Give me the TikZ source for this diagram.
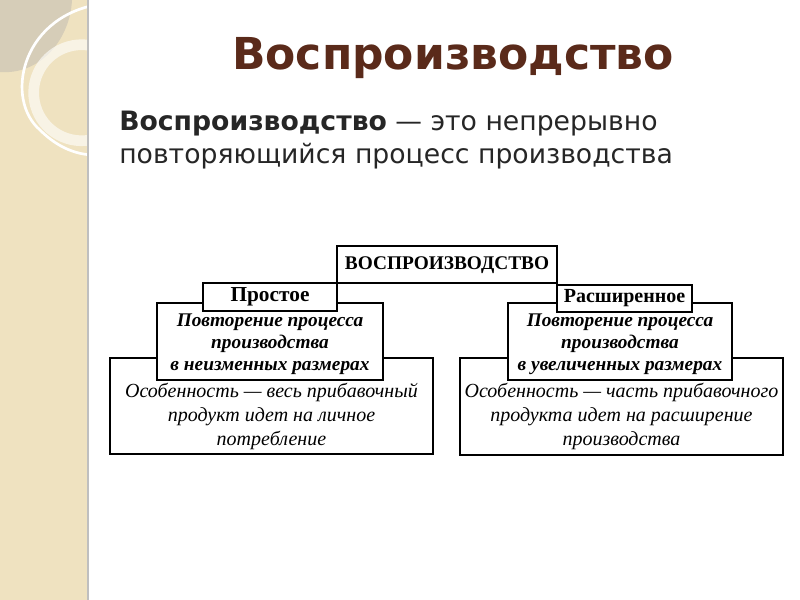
\documentclass[tikz,border=0pt]{standalone}
\usepackage{fontspec}
\setmainfont{Liberation Serif}
\newfontfamily\hsans{DejaVu Sans}
\definecolor{stripc}{HTML}{EFE2C0}
\definecolor{stripg}{HTML}{D6CDB8}
\definecolor{titlec}{HTML}{5A2A1A}
\begin{document}
\begin{tikzpicture}[x=0.75pt,y=-0.75pt,
  bx/.style={draw=black,line width=1.6pt,fill=white},
  bt/.style={font=\fontsize{14.5}{16.5}\selectfont\bfseries\itshape,align=center,inner sep=0},
  rt/.style={font=\fontsize{15}{18}\selectfont\itshape,align=center,inner sep=0}]
\useasboundingbox (0,0) rectangle (800,600);
\fill[white] (0,0) rectangle (800,600);
% left strip
\fill[stripc] (0,0) rectangle (88,600);
\begin{scope}
\clip (0,0) rectangle (88,600);
\fill[stripg] (0,0) -- (0,72) .. controls (40,75) and (70,40) .. (72,0) -- cycle;
\draw[white,line width=2pt] (95,5) .. controls (20,20) and (5,100) .. (40,130) .. controls (60,150) and (80,155) .. (95,155);
\draw[white,line width=8pt,opacity=0.6] (90,140) arc[start angle=80,end angle=330,radius=48];
\end{scope}
\draw[gray!50,line width=1pt] (88,0) -- (88,600);
% headings
\node[font=\hsans\fontsize{33}{36}\selectfont\bfseries,text=titlec,anchor=center] (title) at (453,58) {Воспроизводство};
\node[font=\hsans\fontsize{20}{24.75}\selectfont,text=black!85,anchor=north west,align=left,inner sep=0] (def) at (119,111) {\textbf{Воспроизводство} — это непрерывно\\повторяющийся процесс производства};
% left branch
\draw[bx] (110,358) rectangle (433,454);
\node[rt] (l3) at (271.5,416) {Особенность — весь прибавочный\\продукт идет на личное\\потребление};
\draw[bx] (157,303) rectangle (383,380);
\node[bt] (l2) at (270,344) {Повторение процесса\\производства\\в неизменных размерах};
\draw[bx] (203,283) rectangle (337,311);
\node[font=\fontsize{16}{18}\selectfont\bfseries,inner sep=0] (l1) at (270,297) {Простое};
% right branch
\draw[bx] (460,358) rectangle (783,455);
\node[rt] (r3) at (621.5,416) {Особенность — часть прибавочного\\продукта идет на расширение\\производства};
\draw[bx] (508,303) rectangle (732,380);
\node[bt] (r2) at (620,344) {Повторение процесса\\производства\\в увеличенных размерах};
\draw[bx] (557,285) rectangle (692,312);
\node[font=\fontsize{15}{17}\selectfont\bfseries,inner sep=0] (r1) at (624.5,298) {Расширенное};
% top
\draw[bx] (337,246) rectangle (557,283);
\node[font=\fontsize{14.5}{16}\selectfont\bfseries,inner sep=0] (top) at (447,265) {ВОСПРОИЗВОДСТВО};
\end{tikzpicture}
\end{document}
